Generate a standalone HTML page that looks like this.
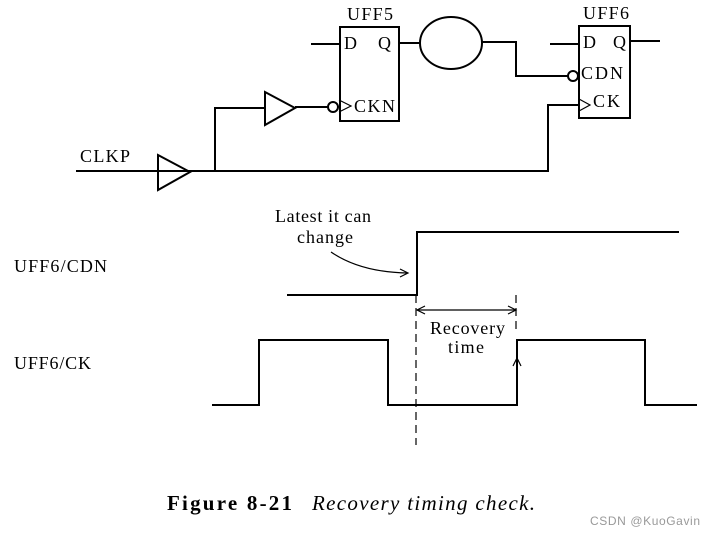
<!DOCTYPE html>
<html><head><style>
body{margin:0;background:#fff;}
svg{display:block;font-family:"Liberation Serif",serif;}
</style></head><body>
<svg width="714" height="535" viewBox="0 0 714 535" xmlns="http://www.w3.org/2000/svg">
<g fill="none" stroke="#000" stroke-width="2">
<rect x="340" y="27" width="59" height="94"/>
<rect x="579" y="26" width="51" height="92"/>
<line x1="311" y1="44" x2="340" y2="44"/>
<line x1="399" y1="43" x2="420" y2="43"/>
<ellipse cx="451" cy="43" rx="31" ry="26"/>
<polyline points="482,42 516,42 516,76 568,76"/>
<circle cx="573" cy="76" r="5"/>
<line x1="550" y1="44" x2="579" y2="44"/>
<line x1="630" y1="41" x2="660" y2="41"/>
<polyline points="579,105 548,105 548,171 76,171"/>
<polyline points="215,171 215,108 265,108"/>
<polygon points="265,92 295,108 265,125"/>
<line x1="295" y1="107" x2="328" y2="107"/>
<circle cx="333" cy="107" r="5"/>
<polygon points="158,155 190,172 158,190"/>
<polyline points="287,295 417,295 417,232 679,232"/>
<polyline points="212,405 259,405 259,340 388,340 388,405 517,405 517,340 645,340 645,405 697,405"/>
</g>
<g fill="none" stroke="#000" stroke-width="1.2">
<polyline points="339,100 351,106 339,112"/>
<polyline points="579,99 590,105 579,111"/>
<line x1="416" y1="295" x2="416" y2="445" stroke-dasharray="8,5"/>
<line x1="516" y1="295" x2="516" y2="332" stroke-dasharray="8,5"/>
<line x1="417" y1="310" x2="516" y2="310"/>
<polyline points="425,306 417,310 425,314"/>
<polyline points="508,306 516,310 508,314"/>
<path d="M331,252 Q360,272 407,273"/>
<polyline points="400,269 408,273 400,277"/>
<polyline points="513,366 517,358 521,366"/>
</g>
<g font-size="18" fill="#000">
<text x="347" y="20" textLength="46">UFF5</text>
<text x="583" y="19" textLength="46">UFF6</text>
<text x="344" y="49">D</text>
<text x="378" y="49">Q</text>
<text x="354" y="112" textLength="41">CKN</text>
<text x="583" y="48">D</text>
<text x="613" y="48">Q</text>
<text x="581" y="79" textLength="42">CDN</text>
<text x="593" y="107" textLength="27">CK</text>
<text x="80" y="162" textLength="50">CLKP</text>
<text x="275" y="222" textLength="96">Latest it can</text>
<text x="297" y="243" textLength="56">change</text>
<text x="430" y="334" textLength="75">Recovery</text>
<text x="448" y="353" textLength="36">time</text>
<text x="14" y="272" textLength="93">UFF6/CDN</text>
<text x="14" y="369" textLength="77">UFF6/CK</text>
<text x="167" y="510" font-size="21" font-weight="bold" textLength="125">Figure 8-21</text>
<text x="312" y="510" font-size="21" font-style="italic" textLength="223">Recovery timing check.</text>
</g>
<text x="590" y="525" font-family="Liberation Sans,sans-serif" font-size="12" fill="#999" textLength="110">CSDN @KuoGavin</text>
</svg>
</body></html>
